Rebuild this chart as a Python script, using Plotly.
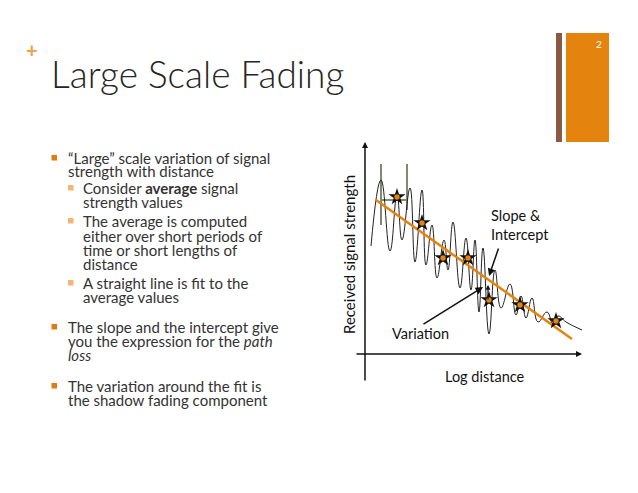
import plotly.graph_objects as go

# page size of the slide; the html body adds an 8px margin round the figure
PAGE_W, PAGE_H = 638, 493
OFF = 8
W, H = PAGE_W - 2 * OFF, PAGE_H - 2 * OFF

# slide text
title = "Large Scale Fading"
slide_number = "2"
# (kind, text, y centre in px) -- b = bullet, c = continuation, 1/2 = level
bullet_lines = [
    ("b1", "\u201cLarge\u201d scale variation of signal", 158),
    ("c1", "strength with distance", 171),
    ("b2", "Consider <b>average</b> signal", 188),
    ("c2", "strength values", 202),
    ("b2", "The average is computed", 221),
    ("c2", "either over short periods of", 236),
    ("c2", "time or short lengths of", 250),
    ("c2", "distance", 264),
    ("b2", "A straight line is fit to the", 283),
    ("c2", "average values", 297),
    ("b1", "The slope and the intercept give", 327),
    ("c1", "you the expression for the <i>path</i>", 341),
    ("c1", "<i>loss</i>", 355),
    ("b1", "The variation around the fit is", 386),
    ("c1", "the shadow fading component", 400),
]

# chart data (log distance, received signal strength), arbitrary units
wave_x = [5, 15, 24, 31, 36, 44, 49, 56, 60, 66, 71, 78, 82, 87, 94, 100, 105,
          109, 113, 117, 123, 129, 135, 144, 150, 155, 160, 166, 172, 181, 187,
          192, 200, 216]
wave_y = [108, 174, 103, 159, 114, 166, 92, 164, 89, 129, 76, 114, 84, 132, 66,
          116, 64, 114, 42, 106, 20, 84, 46, 70, 39, 58, 36, 56, 32, 42, 30, 38,
          32, 24]
avg_x = [31, 56, 77, 102, 123, 154, 190]
avg_y = [157, 131, 96, 96, 54, 49, 33]
fit_x = [10, 206]
fit_y = [154, 15]
window_x = [15, 41]
window_top = 190
window_bottom = [129, 144]
window_level = 154

ORANGE = "#E5830F"
BROWN = "#8A5A44"
TEXT = "#333333"
FONT = "Lato"


def px(x):
    return (x - OFF) / W


def py(y):
    return 1 - (y - OFF) / H


fig = go.Figure()

# averaging window
fig.add_trace(go.Scatter(
    x=[window_x[0], window_x[0], None, window_x[1], window_x[1], None, window_x[0], window_x[1]],
    y=[window_top, window_bottom[0], None, window_top, window_bottom[1], None, window_level, window_level],
    mode="lines", line=dict(color="#7D8B6E", width=2), hoverinfo="skip"))

# raw signal
fig.add_trace(go.Scatter(x=wave_x, y=wave_y, mode="lines",
                         line=dict(color="#222222", width=1, shape="spline", smoothing=1.3),
                         hoverinfo="skip"))

# fitted line
fig.add_trace(go.Scatter(x=fit_x, y=fit_y, mode="lines",
                         line=dict(color=ORANGE, width=2.5), hoverinfo="skip"))

# average points
fig.add_trace(go.Scatter(x=avg_x, y=avg_y, mode="markers",
                         marker=dict(symbol="star", size=13, color="#111111"),
                         hoverinfo="skip"))
fig.add_trace(go.Scatter(x=avg_x, y=avg_y, mode="markers",
                         marker=dict(symbol="circle", size=6, color=ORANGE,
                                     line=dict(color="#111111", width=0.5)),
                         hoverinfo="skip"))

ann = []


def arrow(x, y, ax, ay, size=1, width=1.5):
    ann.append(dict(x=x, y=y, ax=ax, ay=ay, xref="x", yref="y", axref="x", ayref="y",
                    showarrow=True, arrowhead=2, arrowsize=size, arrowwidth=width,
                    arrowcolor="#111111", text=""))


def label(x, y, text, font, xanchor="center", **kw):
    ann.append(dict(x=px(x), y=py(y), xref="paper", yref="paper", text=text, showarrow=False,
                    xanchor=xanchor, yanchor="middle", font=font, **kw))


# axes
arrow(-1, 212, -1, -28, size=0.8)
arrow(216, 0, -11, 0, size=0.8)
# slope & intercept, variation
arrow(123, 78, 133, 107)
arrow(117, 67, 56, 29)
arrow(122, 69, 122, 53, size=0.8, width=1.2)

chart_font = dict(family=FONT, size=14.5, color="#111111")
label(349, 255, "Received signal strength", dict(family=FONT, size=15, color="#111111"), textangle=-90)
label(489, 225, "Slope &amp;<br>Intercept", chart_font, xanchor="left", align="left")
label(420, 333, "Variation", chart_font)
label(485, 376, "Log distance", chart_font)

# slide title and number
label(32, 50, "<b>+</b>", dict(family=FONT, size=20, color="#F2A04E"))
label(49, 74, title, dict(family=FONT, size=37, color="#26261F", weight=300), xanchor="left")
label(599, 44, slide_number, dict(family=FONT, size=10, color="#FFFFFF"))

shapes = [
    dict(type="rect", xref="paper", yref="paper", x0=px(556), x1=px(562), y0=py(142), y1=py(33),
         fillcolor=BROWN, line_width=0),
    dict(type="rect", xref="paper", yref="paper", x0=px(566), x1=px(609), y0=py(142), y1=py(33),
         fillcolor=ORANGE, line_width=0),
]

text_font = dict(family=FONT, size=15, color=TEXT)
for kind, line, yc in bullet_lines:
    x_text = 66 if kind[1] == "1" else 81
    label(x_text, yc, line, text_font, xanchor="left")
    if kind == "b1":
        shapes.append(dict(type="rect", xref="paper", yref="paper", x0=px(51.5), x1=px(57),
                           y0=py(yc + 2.5), y1=py(yc - 3), fillcolor="#E07B12", line_width=0))
    elif kind == "b2":
        shapes.append(dict(type="rect", xref="paper", yref="paper", x0=px(68), x1=px(73.5),
                           y0=py(yc + 2.5), y1=py(yc - 3), fillcolor="#F5B57A", line_width=0))

fig.update_layout(
    width=W, height=H, margin=dict(l=0, r=0, t=0, b=0),
    paper_bgcolor="white", plot_bgcolor="white", showlegend=False,
    xaxis=dict(domain=[px(355), px(582)], range=[-11, 216], visible=False, fixedrange=True),
    yaxis=dict(domain=[py(382), py(142)], range=[-28, 212], visible=False, fixedrange=True),
    annotations=ann, shapes=shapes,
)

fig.write_html("out.html")
